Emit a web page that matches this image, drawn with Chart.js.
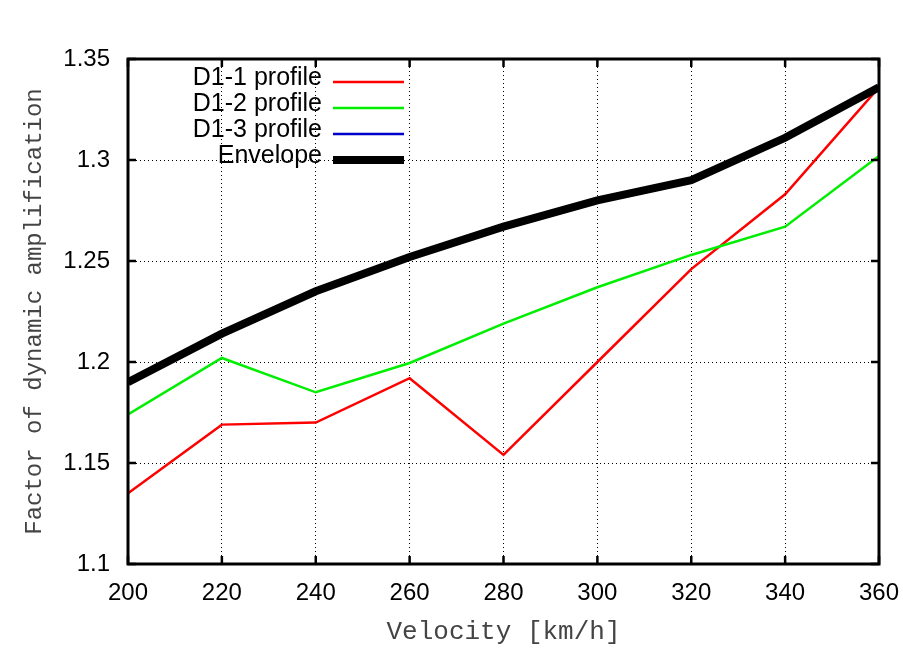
<!DOCTYPE html>
<html>
<head>
<meta charset="utf-8">
<script src="https://cdn.jsdelivr.net/npm/chart.js@4/dist/chart.umd.min.js"></script>
<style>
  html, body { margin: 0; padding: 0; background: #fff; }
  #wrap { width: 903px; height: 662px; }
</style>
</head>
<body>
<div id="wrap"><canvas id="chart"></canvas></div>
<script>
const velocity = [200, 220, 240, 260, 280, 300, 320, 340, 360];
const profile1 = [1.135, 1.169, 1.170, 1.192, 1.154, 1.200, 1.246, 1.283, 1.336];
const profile2 = [1.174, 1.202, 1.185, 1.1995, 1.219, 1.237, 1.253, 1.267, 1.302];
const profile3 = [1.190, 1.214, 1.235, 1.252, 1.267, 1.280, 1.290, 1.311, 1.335];
const envelope = [1.190, 1.214, 1.235, 1.252, 1.267, 1.280, 1.290, 1.311, 1.336];
const seriesNames = ["D1-1 profile", "D1-2 profile", "D1-3 profile", "Envelope"];

function points(values) {
  return values.map((v, i) => ({ x: velocity[i], y: v }));
}

// legend inside the plot, text right aligned, line sample after it
const gnuLegend = {
  id: "gnuLegend",
  afterDraw(chart) {
    const ctx = chart.ctx;
    ctx.save();
    ctx.font = "25px 'Liberation Sans', Arial, sans-serif";
    ctx.textAlign = "right";
    ctx.textBaseline = "middle";
    chart.data.datasets.forEach((ds, i) => {
      const y = 80 + i * 26;
      ctx.fillStyle = "#000";
      ctx.fillText(ds.label, 322, y - 2);
      ctx.strokeStyle = ds.borderColor;
      ctx.lineWidth = ds.borderWidth;
      ctx.beginPath();
      ctx.moveTo(333, y + 2);
      ctx.lineTo(404, y + 2);
      ctx.stroke();
    });
    ctx.restore();
  }
};

// frame and inward tick marks on all four sides
const gnuFrame = {
  id: "gnuFrame",
  afterDraw(chart) {
    const ctx = chart.ctx;
    const a = chart.chartArea;
    const xs = chart.scales.x, ys = chart.scales.y;
    ctx.save();
    ctx.strokeStyle = "#000";
    ctx.lineWidth = 2.5;
    ctx.beginPath();
    xs.ticks.forEach((t) => {
      const px = xs.getPixelForValue(t.value);
      ctx.moveTo(px, a.bottom); ctx.lineTo(px, a.bottom - 8);
      ctx.moveTo(px, a.top); ctx.lineTo(px, a.top + 8);
    });
    ys.ticks.forEach((t) => {
      const py = ys.getPixelForValue(t.value);
      ctx.moveTo(a.left, py); ctx.lineTo(a.left + 8, py);
      ctx.moveTo(a.right, py); ctx.lineTo(a.right - 8, py);
    });
    ctx.stroke();
    ctx.lineWidth = 3;
    ctx.strokeRect(a.left, a.top, a.right - a.left, a.bottom - a.top);
    ctx.restore();
  }
};

new Chart(document.getElementById("chart"), {
  type: "line",
  data: {
    datasets: [
      { label: seriesNames[0], data: points(profile1), borderColor: "#ff0000", borderWidth: 2.5, order: 3 },
      { label: seriesNames[1], data: points(profile2), borderColor: "#00ee00", borderWidth: 2.5, order: 2 },
      { label: seriesNames[2], data: points(profile3), borderColor: "#0000cc", borderWidth: 2.5, order: 1 },
      { label: seriesNames[3], data: points(envelope), borderColor: "#000000", borderWidth: 8, order: 0 },
    ],
  },
  options: {
    responsive: true,
    maintainAspectRatio: false,
    animation: false,
    layout: { padding: { top: 59, right: 24, left: 0, bottom: 0 } },
    elements: {
      point: { radius: 0 },
      line: { tension: 0, fill: false, borderJoinStyle: "miter" },
    },
    scales: {
      x: {
        type: "linear",
        min: 200,
        max: 360,
        afterFit(scale) {
          scale.height = 98;
          scale.paddingLeft = 0;
          scale.paddingRight = 0;
        },
        ticks: {
          stepSize: 20,
          padding: 15,
          color: "#000",
          font: { family: "'Liberation Sans', Arial, sans-serif", size: 24 },
        },
        grid: { color: "#000", lineWidth: 1, drawTicks: false },
        border: { display: false, dash: [1, 3] },
        title: {
          display: true,
          text: "Velocity [km/h]",
          color: "#444",
          font: { family: "'Liberation Mono', 'Courier New', monospace", size: 26 },
          padding: { top: 0, bottom: 14 },
        },
      },
      y: {
        min: 1.1,
        max: 1.35,
        afterFit(scale) {
          scale.width = 128;
          scale.paddingTop = 0;
          scale.paddingBottom = 0;
        },
        ticks: {
          stepSize: 0.05,
          padding: 18,
          color: "#000",
          font: { family: "'Liberation Sans', Arial, sans-serif", size: 24 },
          callback: (v) => String(+v.toFixed(2)),
        },
        grid: { color: "#000", lineWidth: 1, drawTicks: false },
        border: { display: false, dash: [1, 3] },
        title: {
          display: true,
          text: "Factor of dynamic amplification",
          color: "#444",
          font: { family: "'Liberation Mono', 'Courier New', monospace", size: 24 },
          padding: { top: 20, bottom: 0 },
        },
      },
    },
    plugins: {
      legend: { display: false },
      tooltip: { enabled: false },
    },
  },
  plugins: [gnuLegend, gnuFrame],
});
</script>
</body>
</html>
